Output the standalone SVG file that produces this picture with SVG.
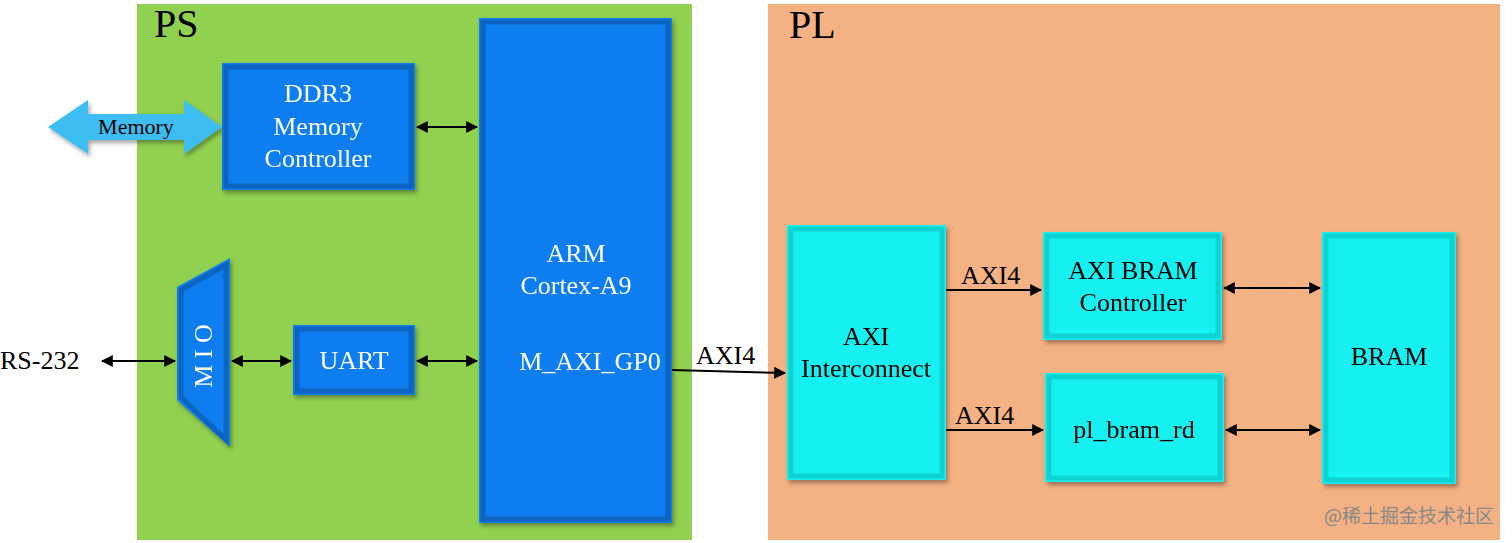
<svg xmlns="http://www.w3.org/2000/svg" width="1512" height="543" viewBox="0 0 1512 543">
<style>
.t{font-family:"Liberation Serif",serif;font-size:26px;fill:#fff;text-anchor:middle}
.k{font-family:"Liberation Serif",serif;font-size:26px;fill:#000}
.c{stroke:#000;stroke-width:2;fill:none}
.blue{fill:#0B7DF0}
.cyan{fill:#14F0F0}
.edge{fill:none;stroke:#000;stroke-opacity:0.2;stroke-width:5}
</style>
<defs>
<marker id="a" viewBox="0 0 10 10" refX="9" refY="5" markerWidth="6" markerHeight="6" orient="auto-start-reverse"><path d="M0,0L10,5L0,10z" fill="#000"/></marker>
<filter id="s" x="-10%" y="-10%" width="120%" height="120%"><feDropShadow dx="2" dy="3" stdDeviation="2" flood-opacity="0.35"/></filter>
</defs>
<rect width="1512" height="543" fill="#fff"/>
<g id="PS"><rect x="137" y="4" width="555" height="536" fill="#92D050"/><text x="154" y="37" class="k" style="font-size:40px">PS</text></g>
<g id="PL"><rect x="768" y="4" width="732" height="536" fill="#F4B183"/><text x="789" y="38" class="k" style="font-size:40px">PL</text>
<text x="1494" y="523" style="font-family:'Noto Sans CJK SC',sans-serif;font-size:19px;fill:#888;text-anchor:end">@稀土掘金技术社区</text></g>
<g id="Memory"><polygon points="48,127 88,100 88,114 184,114 184,100 222,127 184,154 184,140 88,140 88,154" fill="#3DBDF2" filter="url(#s)"/><text x="136" y="134" class="k" style="font-size:22px;text-anchor:middle">Memory</text></g>
<g id="DDR3" filter="url(#s)"><rect x="222" y="63" width="193" height="127" class="blue"/><rect x="226" y="67" width="185" height="119" class="edge"/><text x="318" y="102" class="t">DDR3</text><text x="318" y="135" class="t">Memory</text><text x="318" y="167" class="t">Controller</text></g>
<g id="ARM" filter="url(#s)"><rect x="479" y="18" width="193" height="505" class="blue"/><rect x="483" y="22" width="185" height="497" class="edge"/><text x="576" y="262" class="t">ARM</text><text x="576" y="294" class="t">Cortex-A9</text><text x="590" y="370" class="t">M_AXI_GP0</text></g>
<g id="UART" filter="url(#s)"><rect x="293" y="325" width="122" height="70" class="blue"/><rect x="297" y="329" width="114" height="62" class="edge"/><text x="354" y="369" class="t">UART</text></g>
<g id="MIO" filter="url(#s)"><polygon points="177,287 230,258 230,447 177,400" class="blue"/><polygon points="181,290 226,265 226,440 181,397" class="edge"/><text transform="translate(212,356) rotate(-90)" class="t">M I O</text></g>
<g id="AXIIC" filter="url(#s)"><rect x="787" y="225" width="159" height="255" class="cyan"/><rect x="791" y="229" width="151" height="247" class="edge" style="stroke-opacity:0.12"/><text x="866" y="345" class="k" style="text-anchor:middle">AXI</text><text x="866" y="377" class="k" style="text-anchor:middle">Interconnect</text></g>
<g id="BRAMCTRL" filter="url(#s)"><rect x="1043" y="232" width="179" height="108" class="cyan"/><rect x="1047" y="236" width="171" height="100" class="edge" style="stroke-opacity:0.12"/><text x="1133" y="279" class="k" style="text-anchor:middle">AXI BRAM</text><text x="1133" y="311" class="k" style="text-anchor:middle">Controller</text></g>
<g id="PLBRAMRD" filter="url(#s)"><rect x="1045" y="373" width="179" height="109" class="cyan"/><rect x="1049" y="377" width="171" height="101" class="edge" style="stroke-opacity:0.12"/><text x="1134" y="438" class="k" style="text-anchor:middle">pl_bram_rd</text></g>
<g id="BRAM" filter="url(#s)"><rect x="1322" y="232" width="134" height="252" class="cyan"/><rect x="1326" y="236" width="126" height="244" class="edge" style="stroke-opacity:0.12"/><text x="1389" y="365" class="k" style="text-anchor:middle">BRAM</text></g>
<text x="0" y="369" class="k">RS-232</text>
<g id="connectors" class="c">
<line x1="417" y1="127" x2="477" y2="127" marker-start="url(#a)" marker-end="url(#a)"/>
<line x1="102" y1="361" x2="175" y2="361" marker-start="url(#a)" marker-end="url(#a)"/>
<line x1="232" y1="361" x2="291" y2="361" marker-start="url(#a)" marker-end="url(#a)"/>
<line x1="417" y1="361" x2="477" y2="361" marker-start="url(#a)" marker-end="url(#a)"/>
<polyline points="672,370 785,373" marker-end="url(#a)"/>
<line x1="946" y1="290" x2="1041" y2="290" marker-end="url(#a)"/>
<line x1="946" y1="430" x2="1043" y2="430" marker-end="url(#a)"/>
<line x1="1224" y1="288" x2="1320" y2="288" marker-start="url(#a)" marker-end="url(#a)"/>
<line x1="1226" y1="430" x2="1320" y2="430" marker-start="url(#a)" marker-end="url(#a)"/>
</g>
<text x="696" y="364" class="k">AXI4</text>
<text x="961" y="284" class="k">AXI4</text>
<text x="955" y="424" class="k">AXI4</text>
</svg>
